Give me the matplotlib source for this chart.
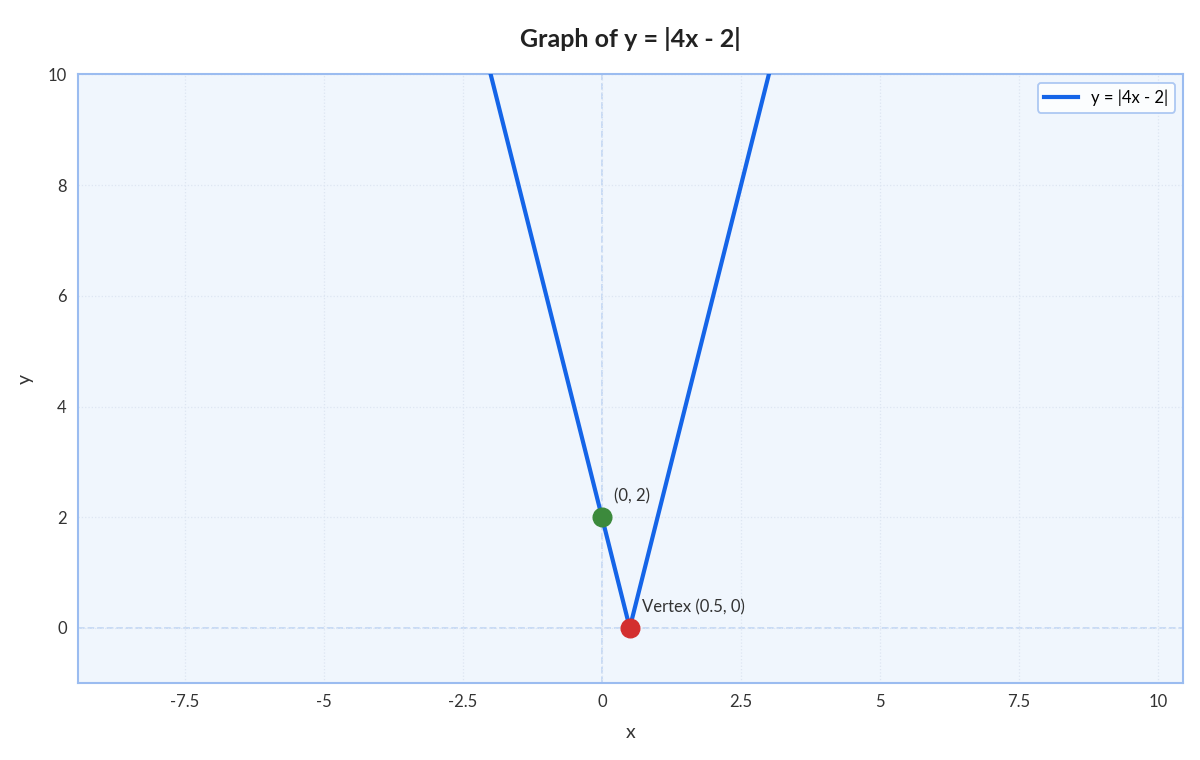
import matplotlib.pyplot as plt
from matplotlib.ticker import FuncFormatter

plt.rcParams['font.family'] = ['Lato', 'DejaVu Sans']

# V-shaped curve y = |4x - 2| sampled at its corner and outside the view
curve_x = [-2.5, 0.5, 3.5]
curve_y = [12.0, 0.0, 12.0]
vertex = (0.5, 0.0)
y_intercept = (0.0, 2.0)
x_ticks = [-7.5, -5, -2.5, 0, 2.5, 5, 7.5, 10]
y_ticks = [0, 2, 4, 6, 8, 10]

fig, ax = plt.subplots(figsize=(12, 7.6), dpi=100)
fig.subplots_adjust(left=0.065, right=0.986, top=0.902, bottom=0.101)
ax.set_facecolor('#f0f6fd')

ax.axhline(0, color='#c5d9f5', lw=1.3, ls='--', zorder=1)
ax.axvline(0, color='#c5d9f5', lw=1.3, ls='--', zorder=1)
ax.grid(True, color='#dde6f2', ls=':', lw=0.9)

ax.plot(curve_x, curve_y, color='#1565e8', lw=3, label='y = |4x - 2|', zorder=3)
ax.scatter(*vertex, s=180, color='#d32f2f', zorder=4)
ax.scatter(*y_intercept, s=180, color='#3c8a3c', zorder=4)
ax.annotate('Vertex (0.5, 0)', vertex, xytext=(9, 11), textcoords='offset points',
            fontsize=12, color='#333333')
ax.annotate('(0, 2)', y_intercept, xytext=(9, 11), textcoords='offset points',
            fontsize=12, color='#333333')

ax.set_xlim(-9.42, 10.45)
ax.set_ylim(-1, 10)
ax.set_xticks(x_ticks)
ax.set_yticks(y_ticks)
ax.xaxis.set_major_formatter(FuncFormatter(lambda v, p: f'{v:g}'))
ax.tick_params(labelsize=12, colors='#333333', length=0, pad=8)
for s in ax.spines.values():
    s.set_color('#9bbcf0')
    s.set_linewidth(1.5)

ax.set_xlabel('x', fontsize=14, color='#333333', labelpad=10)
ax.set_ylabel('y', fontsize=14, color='#333333', labelpad=10)
ax.set_title('Graph of y = |4x - 2|', fontsize=18, fontweight='bold',
             color='#222222', pad=20)
leg = ax.legend(loc='upper right', fontsize=12, frameon=True, fancybox=True)
leg.get_frame().set_edgecolor('#9bbcf0')
leg.get_frame().set_linewidth(1.3)

fig.savefig('out.png')
